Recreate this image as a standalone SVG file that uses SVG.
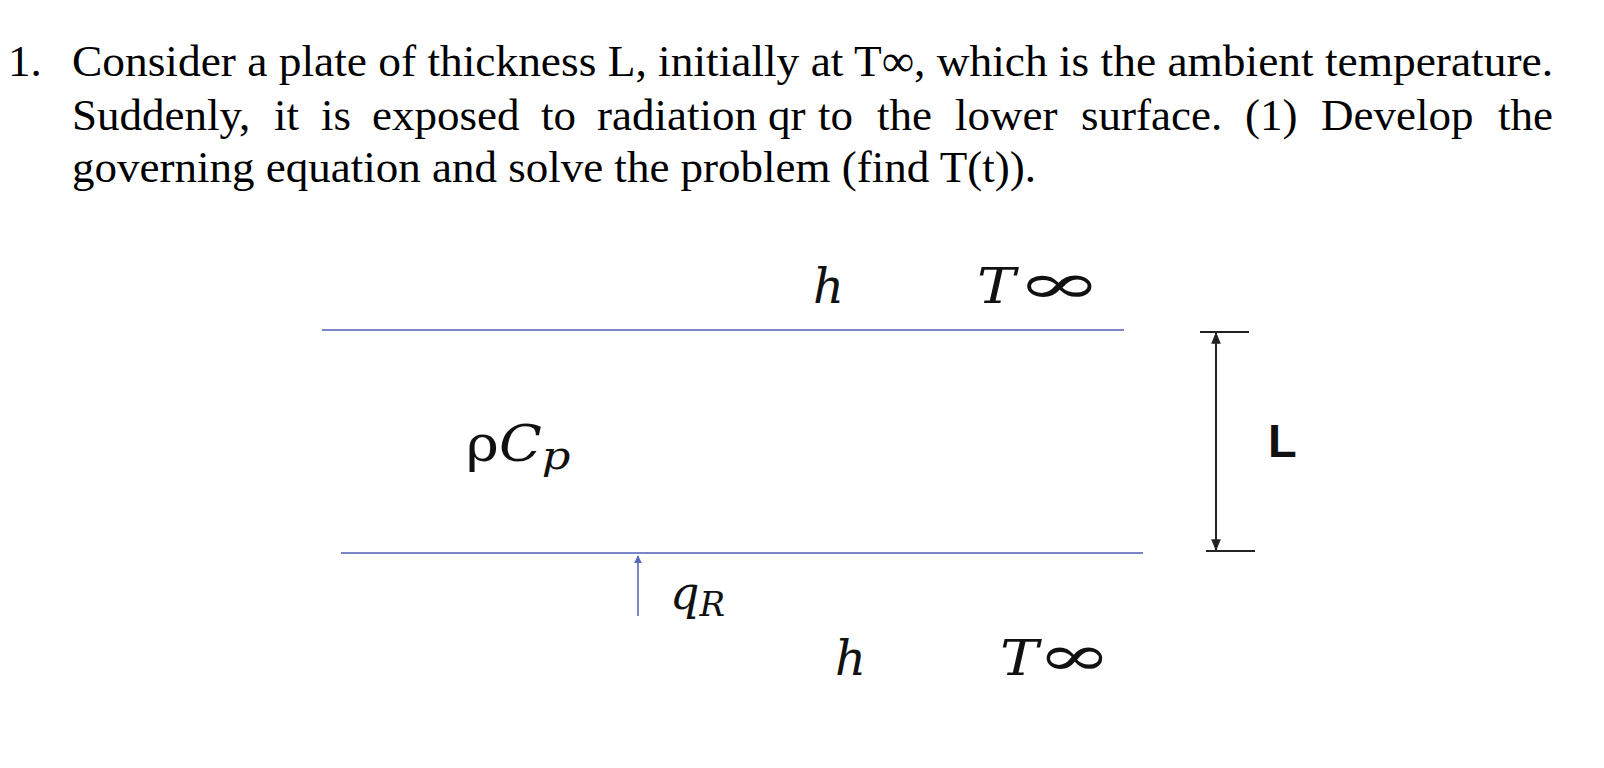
<svg xmlns="http://www.w3.org/2000/svg" width="1604" height="768" viewBox="0 0 1604 768">
<defs>
<style>
.body{font-family:"Liberation Serif","Times New Roman",serif;font-size:45px;fill:#000}
.math{font-family:"DejaVu Serif",serif;font-style:italic;fill:#111}
.inf{font-family:"DejaVu Serif",serif;fill:#111}
.surf{stroke:#7a86c8;stroke-width:2;fill:none}
.dim{stroke:#222;stroke-width:2;fill:none}
</style>
<marker id="ahBlack" viewBox="0 0 10 10" refX="9" refY="5" markerWidth="6" markerHeight="6" orient="auto-start-reverse" markerUnits="strokeWidth">
<path d="M0,1 L10,5 L0,9 z" fill="#222"/>
</marker>
<marker id="ahBlue" viewBox="0 0 10 10" refX="9" refY="5" markerWidth="5" markerHeight="5" orient="auto" markerUnits="strokeWidth">
<path d="M0,0 L10,5 L0,10 z" fill="#5b69b8"/>
</marker>
</defs>
<rect width="1604" height="768" fill="#fff"/>
<g id="problem-text" class="body">
<text x="8" y="76">1.</text>
<text x="72" y="76" textLength="1481" lengthAdjust="spacingAndGlyphs">Consider a plate of thickness L, initially at T∞, which is the ambient temperature.</text>
<text y="130"><tspan x="72">Suddenly,</tspan><tspan x="274">it</tspan><tspan x="321">is</tspan><tspan x="372">exposed</tspan><tspan x="541">to</tspan><tspan x="597">radiation</tspan><tspan x="768">qr</tspan><tspan x="818">to</tspan><tspan x="877">the</tspan><tspan x="955">lower</tspan><tspan x="1081">surface.</tspan><tspan x="1245">(1)</tspan><tspan x="1321">Develop</tspan><tspan x="1498">the</tspan></text>
<text x="72" y="182">governing equation and solve the problem (find T(t)).</text>
</g>
<g id="top-surface">
<line class="surf" x1="322" y1="330" x2="1124" y2="330"/>
</g>
<g id="bottom-surface">
<line class="surf" x1="341" y1="553" x2="1143" y2="553"/>
</g>
<g id="top-h"><text class="math" x="813" y="303" font-size="48">h</text></g>
<g id="top-Tinf"><text class="math" transform="translate(977 303) scale(1.2 1)" font-size="48">T</text><text class="inf" transform="translate(1016 303) scale(1.85 1)" font-size="56">∞</text></g>
<g id="rhoCp"><text transform="translate(466 461) scale(1.12 1)" font-family="DejaVu Serif,serif" font-size="50" fill="#111">ρ<tspan font-style="italic">C</tspan><tspan font-style="italic" font-size="40" dy="8">p</tspan></text></g>
<g id="qR"><text class="math" x="670" y="609" font-size="46">q<tspan font-size="34" dy="7">R</tspan></text></g>
<g id="bottom-h"><text class="math" x="835" y="675" font-size="48">h</text></g>
<g id="bottom-Tinf"><text class="math" transform="translate(1000 675) scale(1.2 1)" font-size="48">T</text><text class="inf" transform="translate(1037 675) scale(1.6 1)" font-size="56">∞</text></g>
<g id="L-label"><text x="1268" y="457" font-family="Liberation Sans,Arial,sans-serif" font-weight="bold" font-size="47" fill="#111">L</text></g>
<g id="connectors">
<line class="dim" x1="1200" y1="332" x2="1249" y2="332"/>
<line class="dim" x1="1206" y1="551" x2="1255" y2="551"/>
<line class="dim" x1="1216" y1="333" x2="1216" y2="550" marker-start="url(#ahBlack)" marker-end="url(#ahBlack)"/>
<line x1="638" y1="616" x2="638" y2="556" stroke="#5b69b8" stroke-width="1.6" marker-end="url(#ahBlue)"/>
</g>
</svg>
